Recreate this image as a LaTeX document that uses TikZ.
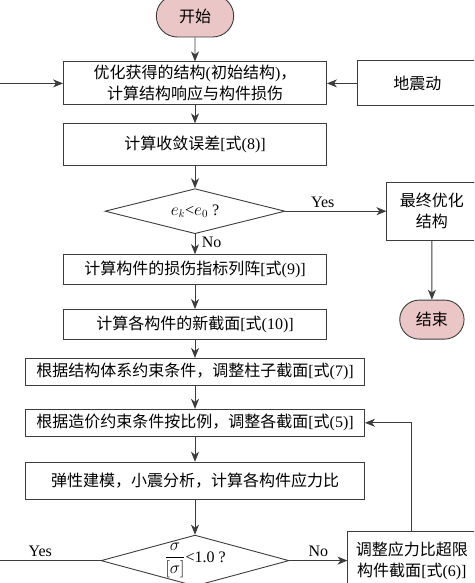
\documentclass[tikz,border=0pt]{standalone}
\usepackage{fontspec,amsmath}
\setmainfont{Liberation Serif}
\newfontfamily\zh{Noto Sans CJK SC}
\usetikzlibrary{arrows.meta,positioning,shapes.geometric,shapes.misc}
\definecolor{lineg}{HTML}{3C3C3C}
\definecolor{termfill}{HTML}{EBC6C6}
\newcommand\shiref[1]{[{\zh 式}(#1)]}
\tikzset{
process/.style={draw=lineg,line width=.9pt,minimum width=263pt,inner sep=2pt,align=center},
wideprocess/.style={process,minimum width=339pt},
sideprocess/.style={draw=lineg,line width=.9pt,inner sep=2pt,align=center},
terminal/.style={draw=lineg,line width=.9pt,rounded rectangle,fill=termfill},
decision/.style={draw=lineg,line width=.9pt,diamond,inner sep=0pt},
flow/.style={-{Stealth[length=10pt,width=8pt,inset=3pt]},line width=.9pt,draw=lineg}
}
\begin{document}
\begin{tikzpicture}[x=1pt,y=-1pt,font=\fontsize{16}{21}\selectfont]
\clip (0,0) rectangle (474,583);
\coordinate (edge) at (0,0);
\node[terminal,minimum width=84pt,minimum height=42pt] (start) at (195,16) {\zh 开始};
\node[process,minimum height=43pt,below=24pt of start] (resp) {{\zh 优化获得的结构}({\zh 初始结构}){\zh ，}\\{\zh 计算结构响应与构件损伤}};
\node[sideprocess,minimum width=120pt,minimum height=45pt,right=30pt of resp] (quake) {\zh 地震动};
\node[process,minimum height=42pt,below=18pt of resp] (err) {{\zh 计算收敛误差}\shiref{8}};
\node[decision,minimum width=180pt,minimum height=45pt,below=22pt of err] (conv) {};
\node (convtxt) at (conv) {$e_k$<$e_0$ ?};
\node[sideprocess,minimum width=90pt,minimum height=58pt,right=101pt of conv] (final) {{\zh 最终优化}\\{\zh 结构}};
\node[terminal,minimum width=71pt,minimum height=39pt,below=59pt of final] (stop) {\zh 结束};
\node[process,minimum height=30pt,below=20pt of conv] (dmg) {{\zh 计算构件的损伤指标列阵}\shiref{9}};
\node[process,minimum height=30pt,below=24pt of dmg] (sect) {{\zh 计算各构件的新截面}\shiref{10}};
\node[wideprocess,minimum height=27pt,below=18pt of sect] (col) {{\zh 根据结构体系约束条件，调整柱子截面}\shiref{7}};
\node[wideprocess,minimum height=27pt,below=23pt of col] (cost) {{\zh 根据造价约束条件按比例，调整各截面}\shiref{5}};
\node[wideprocess,minimum height=37pt,below=25pt of cost] (elas) {\zh 弹性建模，小震分析，计算各构件应力比};
\node[decision,minimum width=188pt,minimum height=51pt,below=35pt of elas] (ratio) {};
\node (ratiotxt) at (ratio) {$\dfrac{\sigma}{[\sigma]}$<1.0 ?};
\node[sideprocess,minimum width=128pt,minimum height=58pt,right=58pt of ratio] (adj) {{\zh 调整应力比超限}\\{\zh 构件截面}\shiref{6}};
\draw[flow](start)--(resp);\draw[flow](quake)--(resp);\draw[flow](resp.west -| edge)--(resp);
\draw[flow](resp)--(err);\draw[flow](err)--(conv);
\draw[flow](conv)--node[above,pos=.37]{Yes}(final);\draw[flow](final)--(stop);
\draw[flow](conv)--node[right=3pt,pos=.4]{No}(dmg);
\draw[flow](dmg)--(sect);\draw[flow](sect)--(col);\draw[flow](col)--(cost);\draw[flow](cost)--(elas);\draw[flow](elas)--(ratio);
\draw[flow](ratio)--node[above]{No}(adj);\draw[flow](adj.north)|-(cost.east);
\draw[line width=.9pt,draw=lineg](ratio.west)--node[above,pos=.6]{Yes}(ratio.west -| edge);
\end{tikzpicture}
\end{document}
